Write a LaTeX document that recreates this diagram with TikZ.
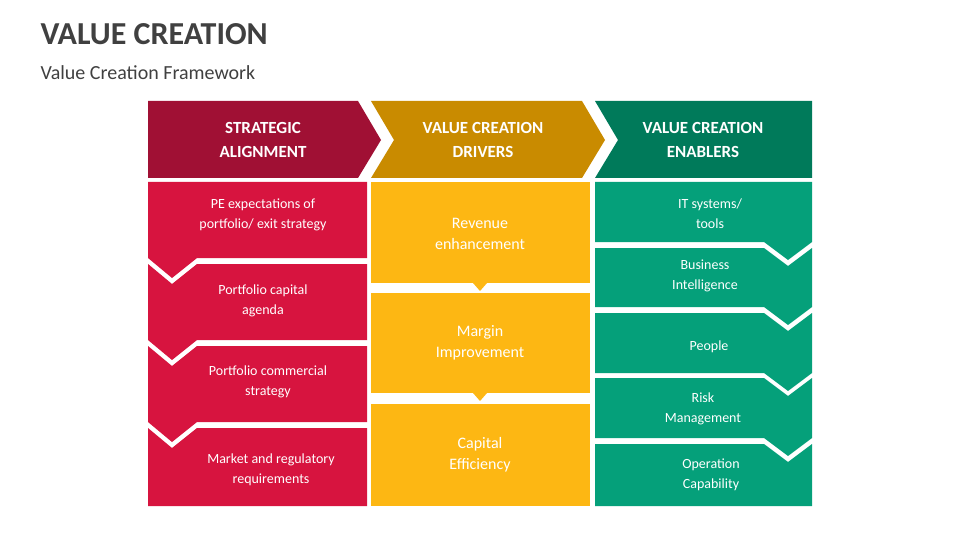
\documentclass[tikz,border=0pt]{standalone}
\usepackage{fontspec}
\setmainfont{Carlito}
\usetikzlibrary{positioning}
\definecolor{alignhead}{HTML}{A01034}
\definecolor{aligncell}{HTML}{D7143F}
\definecolor{drivehead}{HTML}{C98B00}
\definecolor{drivecell}{HTML}{FDB713}
\definecolor{enablehead}{HTML}{007A5A}
\definecolor{enablecell}{HTML}{05A07A}
\definecolor{titlegray}{HTML}{404040}
\tikzset{
  headtext/.style={text=white, font=\bfseries\fontsize{17}{24}\selectfont, align=center},
  celltext/.style={text=white, font=\fontsize{14}{20}\selectfont, align=center},
  bigtext/.style={text=white, font=\fontsize{16}{21}\selectfont, align=center}
}
\begin{document}
\begin{tikzpicture}[x=1pt,y=-1pt]
  \useasboundingbox (0,0) rectangle (960,540);

  % Title
  \node[anchor=west, text=titlegray, font=\bfseries\fontsize{32}{36}\selectfont] (title) at (37,34) {VALUE CREATION};
  \node[anchor=west, text=titlegray, font=\fontsize{20}{24}\selectfont] (subtitle) at (37,73) {Value Creation Framework};

  % --- Header chevrons ---
  \fill[alignhead] (148,101) -- (358,101) -- (381,140) -- (358,178) -- (148,178) -- cycle;
  \fill[drivehead] (371,101) -- (582,101) -- (605,140) -- (582,178) -- (371,178) -- (394,140) -- cycle;
  \fill[enablehead] (595,101) -- (812,101) -- (812,178) -- (595,178) -- (618,140) -- cycle;
  \node[headtext] (hAlign) at (263,140) {STRATEGIC\\ALIGNMENT};
  \node[headtext] (hDrive) at (483,140) {VALUE CREATION\\DRIVERS};
  \node[headtext] (hEnable) at (703,140) {VALUE CREATION\\ENABLERS};

  % --- Strategic alignment column ---
  \def\LA{148}
  \def\RA{367}
  \foreach \t/\b [count=\i] in {182/258, 264/340, 346/422, 428/506} {
    \ifnum\i=1
      \fill[aligncell] (\LA,\t) -- (\RA,\t) -- (\RA,\b) -- (197,\b) -- (172,\b+20) -- (\LA,\b) -- cycle;
    \else\ifnum\i=4
      \fill[aligncell] (\LA,\t) -- (172,\t+20) -- (197,\t) -- (\RA,\t) -- (\RA,\b) -- (\LA,\b) -- cycle;
    \else
      \fill[aligncell] (\LA,\t) -- (172,\t+20) -- (197,\t) -- (\RA,\t) -- (\RA,\b) -- (197,\b) -- (172,\b+20) -- (\LA,\b) -- cycle;
    \fi\fi
  }
  \node[celltext] (a1) at (263,215) {PE expectations of\\portfolio/ exit strategy};
  \node[celltext] (a2) at (263,301) {Portfolio capital\\agenda};
  \node[celltext] (a3) at (268,382) {Portfolio commercial\\strategy};
  \node[celltext] (a4) at (271,470) {Market and regulatory\\requirements};

  % --- Value creation drivers column ---
  \def\LB{371}
  \def\RB{590}
  \foreach \t/\b [count=\i] in {182/283, 293/393, 404/506} {
    \fill[drivecell] (\LB,\t) rectangle (\RB,\b);
    \ifnum\i<3
      \fill[drivecell] (473,\b) -- (487,\b) -- (480,\b+8) -- cycle;
    \fi
  }
  \node[bigtext] (d1) at (480,234) {Revenue\\enhancement};
  \node[bigtext] (d2) at (480,343) {Margin\\Improvement};
  \node[bigtext] (d3) at (480,455) {Capital\\Efficiency};

  % --- Value creation enablers column ---
  \def\LC{595}
  \def\RC{812}
  \foreach \t/\b [count=\i] in {182/242, 248/307, 313/373, 378/438, 444/506} {
    \ifnum\i=1
      \fill[enablecell] (\LC,\t) -- (\RC,\t) -- (\RC,\b) -- (788,\b+18) -- (764,\b) -- (\LC,\b) -- cycle;
    \else\ifnum\i=5
      \fill[enablecell] (\LC,\t) -- (764,\t) -- (788,\t+18) -- (\RC,\t) -- (\RC,\b) -- (\LC,\b) -- cycle;
    \else
      \fill[enablecell] (\LC,\t) -- (764,\t) -- (788,\t+18) -- (\RC,\t) -- (\RC,\b) -- (788,\b+18) -- (764,\b) -- (\LC,\b) -- cycle;
    \fi\fi
  }
  \node[celltext] (e1) at (710,214) {IT systems/\\tools};
  \node[celltext] (e2) at (705,276) {Business\\Intelligence};
  \node[celltext] (e3) at (709,347) {People};
  \node[celltext] (e4) at (703,409) {Risk\\Management};
  \node[celltext] (e5) at (711,475) {Operation\\Capability};
\end{tikzpicture}
\end{document}
